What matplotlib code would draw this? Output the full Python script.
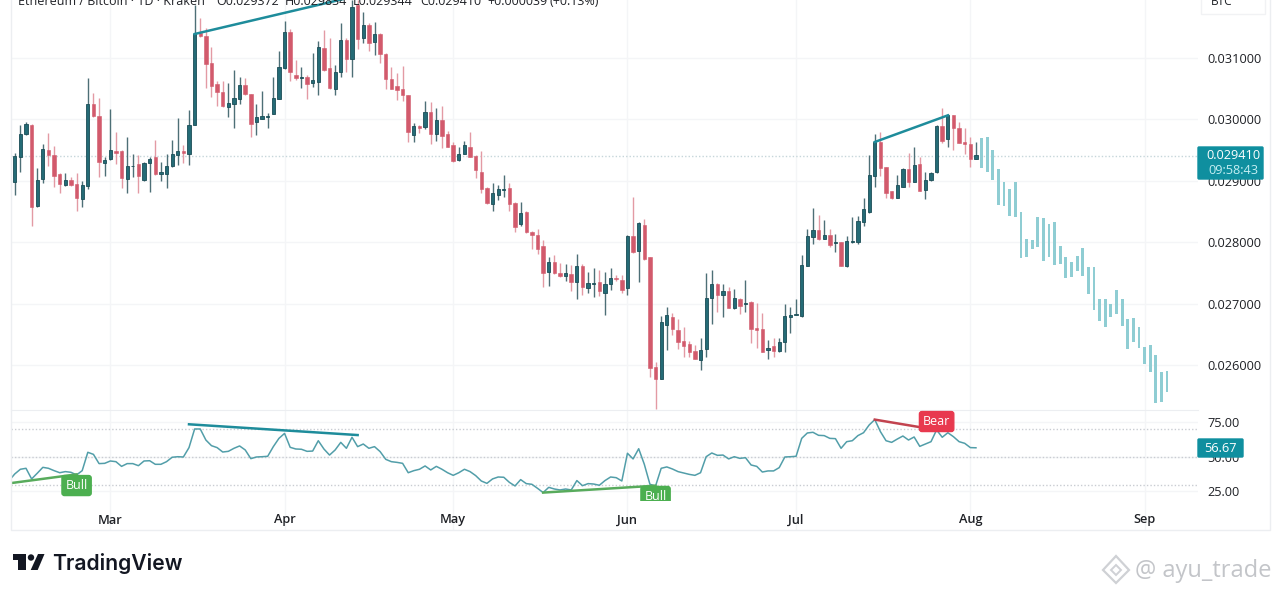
import numpy as np
import matplotlib
matplotlib.use("Agg")
import matplotlib.pyplot as plt
from matplotlib.patches import Circle, FancyBboxPatch, Polygon, Rectangle

plt.rcParams['font.family'] = ['Open Sans', 'DejaVu Sans']

W, H = 1280, 595

# Prices in millionths of BTC
highs = [29447,29909,29963,29925,29203,29594,29773,29567,29132,29121,29067,29132,28997,30680,30425,30354,29393,30169,29800,29501,29708,29431,29420,29301,29382,29664,29311,29431,29664,30017,29583,30153,31864,31646,31483,31185,30626,30626,30587,30805,30685,30669,30419,30251,30468,30110,30696,31120,31608,31467,30968,30848,30723,31076,31283,31456,31321,30886,31565,31321,31945,31945,31755,31576,31592,31402,31076,30859,30761,30870,30397,29947,29909,30294,30289,30191,30224,29816,29637,29556,29654,29800,29420,29491,28904,28958,28931,29094,28958,28649,28660,28513,28182,28209,28036,27764,27791,27655,27645,27628,27802,27645,27520,27585,27547,27520,27585,27465,27465,28117,28731,28323,28372,27753,26054,26798,26939,26852,26743,26613,26390,26325,26434,27493,27547,27330,27319,27265,27238,27086,27384,27048,27004,26841,26407,26434,26434,26988,26950,27069,27791,28209,28551,28443,28361,28209,28128,28008,28106,28405,28426,28714,29420,29757,29789,29230,28839,29094,29203,29447,29545,29382,29149,29149,29909,30180,30088,30072,29952,29855,29708,29637]
tops = [29409,29757,29925,29909,29007,29523,29496,29415,29105,29018,29018,28942,28926,30256,30256,30055,29344,29496,29480,29480,29241,29246,29268,29295,29360,29382,29143,29241,29436,29485,29491,29914,31391,31402,31359,30913,30577,30446,30267,30343,30566,30566,30408,30034,30050,30055,30343,30848,31424,31424,30723,30696,30696,30636,31179,31158,30843,30767,31288,31293,31836,31864,31532,31538,31391,31391,31060,30658,30539,30501,30392,29898,29892,30126,30126,29990,29990,29757,29588,29442,29578,29556,29398,29149,28877,28796,28861,28872,28888,28644,28481,28486,28166,28117,27938,27672,27672,27493,27503,27487,27612,27607,27330,27335,27351,27319,27417,27417,27384,28101,28101,28318,28285,27753,25972,26694,26808,26781,26569,26385,26336,26227,26238,27096,27319,27319,27199,27199,27096,27069,27015,27026,26597,26586,26282,26304,26380,26798,26809,26836,27623,28101,28198,28198,28112,28112,27997,27997,28014,28025,28345,28540,29094,29632,29626,29230,28828,28931,29198,29192,29257,29274,29013,29127,29898,29898,30066,30072,29855,29626,29599,29415]
bottoms = [28975,29393,29757,28578,28595,29029,29415,29083,28948,28937,28937,28714,28709,28915,30055,29301,29284,29355,29458,29040,29035,29235,29078,29013,29284,29111,29116,29111,29241,29420,29458,29442,29914,31359,30902,30549,30446,30213,30202,30256,30327,30408,29925,29958,30006,30044,30093,30332,30832,30767,30680,30669,30571,30598,30615,30805,30506,30495,30767,30978,30978,31315,31321,31250,31266,31060,30658,30501,30479,30392,29789,29746,29865,29882,29762,29762,29735,29556,29322,29344,29442,29393,29176,28861,28633,28627,28768,28855,28622,28253,28291,28160,28117,27894,27503,27520,27493,27455,27455,27351,27351,27265,27259,27324,27199,27167,27324,27395,27216,27248,27835,27862,27732,25950,25777,25777,26646,26586,26369,26314,26206,26097,26081,26260,27091,27140,27145,26928,26934,26966,26993,26581,26570,26217,26244,26228,26228,26380,26776,26819,26798,27617,28090,28046,28057,27954,27981,27617,27612,28003,28008,28323,28492,29078,29203,28807,28714,28720,28904,28986,28986,28839,28850,29013,29143,29643,29681,29860,29621,29605,29360,29360]
lows = [28768,29149,29746,28269,28578,28958,29241,28904,28796,28915,28915,28513,28568,28861,30044,29056,29083,29339,29268,28877,28806,29067,28796,29002,28812,29094,28997,28888,29230,29257,29284,29257,29903,31348,30506,30359,30224,30207,30034,29865,30251,30397,29708,29746,30001,29854,30088,30327,30821,30626,30642,30506,30332,30522,30397,30794,30495,30397,30696,30778,30696,31141,31239,31120,31044,30913,30490,30490,30316,30300,29637,29637,29784,29838,29594,29654,29529,29545,29311,29328,29431,29382,29051,28796,28622,28513,28687,28730,28513,28160,28263,28144,27889,27802,27265,27292,27476,27438,27373,27210,27069,27140,27178,27113,27129,26814,27221,27373,27167,27140,27818,27357,27710,25798,25283,25766,26244,26488,26260,26135,26135,26092,25918,26124,26667,26868,26787,26922,26906,26830,26868,26352,26271,26211,26092,26135,26206,26206,26515,26814,26787,27617,27965,28035,28046,27927,27835,27612,27601,27992,27965,28264,28481,28904,29078,28714,28709,28714,28893,28893,28975,28834,28703,29002,29132,29621,29545,29502,29610,29436,29230,29355]
directions = ("GGGRGGRRRGRRG" "GRRGGRRGGRGGRGGGGRG" "GRRRRR" "GGG" "RR" "GGGGGG" "RR" "GRGG" "RR" "GG"
              "RGRGRG" "RRRRRR" "GRGRG" "RRR" "GG" "RRRR" "GGG" "RR" "G" "RRRR" "GRRGRGRGGRGG" "RR"
              "GRG" "RRR" "GG" "RRRRR" "GGG" "RGRGRG" "RRR" "GR" "GGGGGGG" "RGRGR" "GGGGGG" "RRR"
              "GG" "RGR" "GGG" "RG" "RRRR" "G")
first_candle_day = -17  # days from 1 March

# Projected bars after the last candle
proj_tops = [29691,29708,29501,29186,28975,28866,28975,28497,28046,28035,28415,28388,28290,28323,27937,27753,27671,27775,27905,27590,27601,27069,27074,26987,27221,27074,26748,26759,26613,26298,26325,26162,25885,25907]
proj_bottoms = [29214,29148,29013,28605,28594,28426,28415,27747,27753,27889,27927,27699,27764,27623,27639,27422,27438,27536,27454,27156,26895,26721,26613,26786,26824,26640,26254,26379,26270,26010,25885,25385,25391,25565]
first_proj_day = 155

# RSI, one value per day, starting one day before the first candle
rsi = [32.9,37.7,41.1,41.8,34.1,38.2,42.5,41.8,40.1,38.6,39.4,38.9,37.0,40.1,53.4,51.9,45.2,45.4,47.1,46.6,43.2,45.2,45.2,43.7,47.1,47.3,44.7,44.7,46.6,49.8,50.2,50.0,56.8,70.3,70.3,62.3,58.2,56.8,53.6,54.1,56.3,58.0,55.1,48.8,50.0,50.2,50.5,57.5,63.5,67.1,57.0,55.8,55.6,54.1,54.3,61.8,55.8,51.4,55.1,60.6,56.3,64.3,57.5,59.4,56.3,57.5,53.9,48.3,46.6,46.1,45.4,38.6,40.1,41.1,43.5,40.6,43.2,41.1,38.6,36.7,38.6,41.1,39.4,36.5,32.6,30.9,34.1,35.5,35.3,31.6,29.0,33.6,30.7,30.2,27.3,24.2,28.0,26.8,26.1,26.8,26.1,32.9,29.2,30.7,30.4,29.5,32.9,35.5,35.0,32.6,52.7,48.6,56.0,44.7,30.2,29.0,41.8,42.8,41.3,39.4,38.4,37.4,36.7,38.6,50.2,52.9,51.2,51.4,48.6,50.2,49.0,49.5,44.2,43.2,39.1,39.9,39.9,42.3,50.0,50.2,50.5,63.5,67.4,67.9,65.7,65.5,63.5,63.3,56.3,61.1,61.8,65.5,67.6,73.2,77.1,68.4,61.8,60.6,63.0,65.2,62.3,64.5,57.7,59.4,61.1,69.6,64.3,67.6,64.7,61.1,59.9,56.8,56.67]

price_ticks = [0.026, 0.027, 0.028, 0.029, 0.030, 0.031]
rsi_ticks = [25, 50, 75]
rsi_bands = [30, 50, 70]
month_days = [0, 31, 61, 92, 122, 153, 184]
month_names = ['Mar', 'Apr', 'May', 'Jun', 'Jul', 'Aug', 'Sep']

last_price = 0.029410
countdown = '09:58:43'
last_rsi = 56.67

# Divergence lines: (day, value) pairs
price_div_days = [[15, 43], [136, 149]]
price_div_vals = [[0.031391, 0.031994], [0.029632, 0.030066]]
rsi_div_days = [[-18, -6], [14, 44], [77, 97], [136, 147]]
rsi_div_vals = [[30.9, 37.4], [73.7, 65.9], [24.2, 29.2], [77.1, 69.6]]
rsi_div_colors = ['#58ab5c', '#1e8c9b', '#58ab5c', '#c2434f']
signal_labels = [('Bull', -6, 29.3, '#4caf50'), ('Bull', 97, 21.4, '#4caf50'), ('Bear', 147, 75.7, '#e8394f')]

GREEN = '#256b76'
GREEN_EDGE = '#1b4d56'
GREEN_WICK = '#4d6f76'
RED = '#d25a6c'
RED_WICK = '#e39aa4'
TEAL = '#1e8c9b'
TAG = '#0f8f9f'
GRID = '#f4f5f7'
BORDER = '#eceef1'
TEXT = '#1f2126'


def pane(x0, y0, x1, y1):
    return fig.add_axes([x0 / W, 1 - y1 / H, (x1 - x0) / W, (y1 - y0) / H])


fig = plt.figure(figsize=(12.8, 5.95), dpi=100, facecolor='white')

xlim = (-17.72, 193.5)

# background pane, only carries the month grid lines
bg = pane(10.7, 0, 1198, 530)
bg.set_xlim(xlim)
bg.set_xticks(month_days)
bg.tick_params(length=0, labelbottom=False, labelleft=False)
bg.set_yticks([])
bg.grid(axis='x', color=GRID, lw=1)
for s in bg.spines.values():
    s.set_visible(False)

# price pane
ax = pane(10.7, 0, 1198, 410)
ax.patch.set_alpha(0)
ax.set_xlim(xlim)
ax.set_ylim(0.025266, 0.031945)

days = first_candle_day + np.arange(len(highs))
is_up = np.array([d == 'G' for d in directions])
highs = np.array(highs) / 1e6
lows = np.array(lows) / 1e6
tops = np.array(tops) / 1e6
bottoms = np.array(bottoms) / 1e6

ax.vlines(days[is_up], lows[is_up], highs[is_up], color=GREEN_WICK, lw=1, zorder=2)
ax.vlines(days[~is_up], lows[~is_up], highs[~is_up], color=RED_WICK, lw=1, zorder=2)
ax.bar(days[is_up], tops[is_up] - bottoms[is_up], bottom=bottoms[is_up], width=0.58,
       color=GREEN, edgecolor=GREEN_EDGE, lw=0.6, zorder=3)
ax.bar(days[~is_up], tops[~is_up] - bottoms[~is_up], bottom=bottoms[~is_up], width=0.62,
       color=RED, edgecolor=RED, lw=0.4, zorder=3)

proj_days = first_proj_day + np.arange(len(proj_tops))
proj_tops = np.array(proj_tops) / 1e6
proj_bottoms = np.array(proj_bottoms) / 1e6
ax.bar(proj_days, proj_tops - proj_bottoms, bottom=proj_bottoms, width=0.5, color='#8fcdd3', zorder=3)

ax.axhline(last_price, color='#c6d6da', lw=1, ls=(0, (1, 1.5)), zorder=1)
for d, v in zip(price_div_days, price_div_vals):
    ax.plot(d, v, color=TEAL, lw=1.8, zorder=4)

ax.yaxis.tick_right()
ax.set_yticks(price_ticks)
ax.set_yticklabels([f'{t:.6f}' for t in price_ticks], fontsize=9.2, color=TEXT, fontweight=500)
ax.set_xticks([])
ax.tick_params(axis='y', length=0, pad=6.5)
ax.grid(axis='y', color=GRID, lw=1)
ax.set_axisbelow(True)
for s in ax.spines.values():
    s.set_visible(False)
ax.spines['bottom'].set_visible(True)
ax.spines['bottom'].set_color(BORDER)

# RSI pane
ax2 = pane(10.7, 410, 1198, 501)
ax2.patch.set_alpha(0)
ax2.set_xlim(xlim)
ax2.set_ylim(18.1, 84.06)

rsi_days = first_candle_day - 1 + np.arange(len(rsi))
ax2.plot(rsi_days, rsi, color='#529ea9', lw=1.1, zorder=3)
for level in rsi_bands:
    ax2.axhline(level, color='#c9ccd2', lw=1, ls=(0, (1, 1.5)), zorder=1)
for d, v, c in zip(rsi_div_days, rsi_div_vals, rsi_div_colors):
    ax2.plot(d, v, color=c, lw=1.8, zorder=4)
for name, d, v, c in signal_labels:
    ax2.text(d, v, name, color='white', fontsize=9, ha='center', va='center', zorder=5, clip_on=True,
             bbox=dict(boxstyle='round,pad=0.28,rounding_size=0.2', fc=c, ec=c))

ax2.yaxis.tick_right()
ax2.set_yticks(rsi_ticks)
ax2.set_yticklabels([f'{t:.2f}' for t in rsi_ticks], fontsize=9.2, color=TEXT, fontweight=500)
ax2.set_xticks(month_days)
ax2.set_xticklabels(month_names, fontsize=9.2, color=TEXT, fontweight=600)
ax2.tick_params(axis='y', length=0, pad=6.5)
ax2.tick_params(axis='x', length=0, pad=9)
ax2.grid(axis='y', color=GRID, lw=1)
ax2.set_axisbelow(True)
for s in ax2.spines.values():
    s.set_visible(False)

# overlay in pixel coordinates for everything that is not chart data
ov = fig.add_axes([0, 0, 1, 1])
ov.set_xlim(0, W)
ov.set_ylim(H, 0)
ov.axis('off')
ov.patch.set_alpha(0)

ov.plot([10.7, 10.7, 1270, 1270], [0, 530, 530, 0], color=BORDER, lw=1)
ov.add_patch(Rectangle((1200.5, -5), 64.5, 19, fc='white', ec='#f1f2f4', lw=1))
ov.text(1222, 5, 'BTC', fontsize=8.6, color=TEXT, ha='center', va='baseline')

# header, cut by the top edge as in the screenshot
ov.text(18, 5, 'Ethereum / Bitcoin · 1D · Kraken', fontsize=9, color=TEXT, va='baseline')
for x, s in zip([216, 285, 352.5, 420, 487, 550],
                ['O0.029372', 'H0.029834', 'L0.029344', 'C0.029410', '+0.000039', '(+0.13%)']):
    ov.text(x, 5, s, fontsize=9, color=TEXT, va='baseline')

# value tags on the scales
ov.add_patch(FancyBboxPatch((1198, 147), 65, 32, boxstyle='round,pad=0,rounding_size=1', fc=TAG, ec=TAG))
ov.text(1233, 155.5, f'{last_price:.6f}', color='white', fontsize=9.2, ha='center', va='center')
ov.text(1233, 170.5, countdown, color='#c4eef2', fontsize=9.2, ha='center', va='center')
ov.add_patch(FancyBboxPatch((1198, 439), 45, 18, boxstyle='round,pad=0,rounding_size=1', fc=TAG, ec=TAG))
ov.text(1220.5, 448, f'{last_rsi:.2f}', color='white', fontsize=9.2, ha='center', va='center')

# TradingView logo
ov.add_patch(Polygon([(12.7, 554), (26, 554), (26, 570), (18.3, 570), (18.3, 560), (12.7, 560)], fc='#131722', ec='none'))
ov.add_patch(Circle((31, 557.5), 3.2, fc='#131722', ec='none'))
ov.add_patch(Polygon([(38, 554), (44.5, 554), (37.7, 570), (30.7, 570)], fc='#131722', ec='none'))
ov.text(52, 563, 'TradingView', fontsize=15.2, color='#131722', family='Inter', fontweight='semibold', va='center')

# watermark
ov.add_patch(Polygon([(1116, 556), (1129, 570), (1116, 583), (1103, 570)], fc='none', ec='#cfd1d5', lw=1.6))
ov.add_patch(Polygon([(1116, 565), (1121, 570), (1116, 575), (1111, 570)], fc='none', ec='#cfd1d5', lw=1.4))
ov.text(1135, 571, '@ ayu_trade', fontsize=17, color='#c3c5c9', va='center')

fig.savefig('out.png', dpi=100)
